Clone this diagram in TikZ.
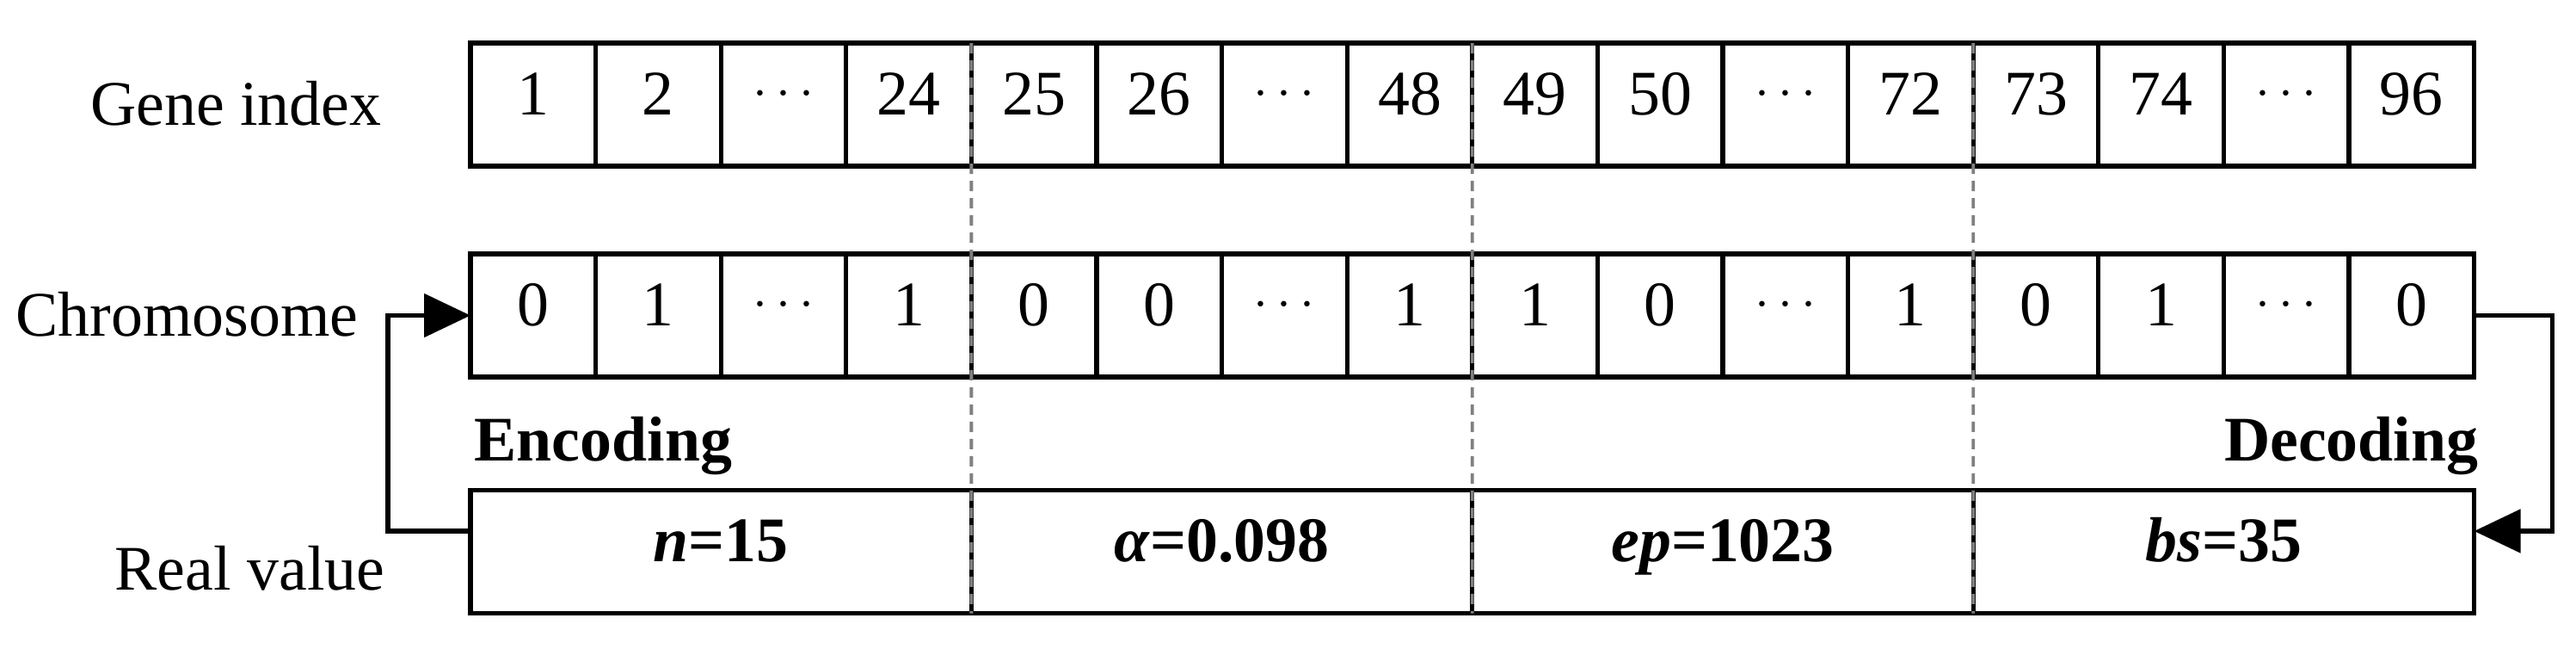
\documentclass[tikz,border=0pt]{standalone}
\usepackage{fontspec}
\setmainfont{Liberation Serif}
\usetikzlibrary{arrows.meta}

\newcommand{\gap}{\raisebox{1mm}{\fontsize{17}{17}\selectfont$\cdots$}}

\begin{document}
\begin{tikzpicture}[
    font=\fontsize{21}{25}\selectfont,
    cell/.style={draw, line width=1.5pt, inner sep=0pt, outer sep=0pt, minimum width=1.456cm, minimum height=1.43cm, text height=1.45ex, text depth=0pt},
    valbox/.style={cell, minimum width=5.824cm},
    lbl/.style={inner sep=0pt},
    sep/.style={draw=gray, line width=1.1pt, dash pattern=on 0.12cm off 0.08cm},
    conn/.style={line width=1.5pt, -{Triangle[length=0.54cm, width=0.5cm]}}
  ]
  \useasboundingbox (0,0) rectangle (29.95,-7.53);

  % gene index
  \node[cell] (g1) at (6.198,-1.215) {1};
  \node[cell] (g2) at (7.654,-1.215) {2};
  \node[cell] (g3) at (9.110,-1.215) {\gap};
  \node[cell] (g4) at (10.566,-1.215) {24};
  \node[cell] (g5) at (12.022,-1.215) {25};
  \node[cell] (g6) at (13.478,-1.215) {26};
  \node[cell] (g7) at (14.934,-1.215) {\gap};
  \node[cell] (g8) at (16.390,-1.215) {48};
  \node[cell] (g9) at (17.846,-1.215) {49};
  \node[cell] (g10) at (19.302,-1.215) {50};
  \node[cell] (g11) at (20.758,-1.215) {\gap};
  \node[cell] (g12) at (22.214,-1.215) {72};
  \node[cell] (g13) at (23.670,-1.215) {73};
  \node[cell] (g14) at (25.126,-1.215) {74};
  \node[cell] (g15) at (26.582,-1.215) {\gap};
  \node[cell] (g16) at (28.038,-1.215) {96};

  % chromosome
  \node[cell] (c1) at (6.198,-3.665) {0};
  \node[cell] (c2) at (7.654,-3.665) {1};
  \node[cell] (c3) at (9.110,-3.665) {\gap};
  \node[cell] (c4) at (10.566,-3.665) {1};
  \node[cell] (c5) at (12.022,-3.665) {0};
  \node[cell] (c6) at (13.478,-3.665) {0};
  \node[cell] (c7) at (14.934,-3.665) {\gap};
  \node[cell] (c8) at (16.390,-3.665) {1};
  \node[cell] (c9) at (17.846,-3.665) {1};
  \node[cell] (c10) at (19.302,-3.665) {0};
  \node[cell] (c11) at (20.758,-3.665) {\gap};
  \node[cell] (c12) at (22.214,-3.665) {1};
  \node[cell] (c13) at (23.670,-3.665) {0};
  \node[cell] (c14) at (25.126,-3.665) {1};
  \node[cell] (c15) at (26.582,-3.665) {\gap};
  \node[cell] (c16) at (28.038,-3.665) {0};

  % real values
  \node[valbox] (v1) at (8.382,-6.41) {\textbf{\textit{n}=15}};
  \node[valbox] (v2) at (14.206,-6.41) {\textbf{\textit{α}=0.098}};
  \node[valbox] (v3) at (20.030,-6.41) {\textbf{\textit{ep}=1023}};
  \node[valbox] (v4) at (25.854,-6.41) {\textbf{\textit{bs}=35}};

  \node[lbl, anchor=base east] (gi) at (4.44,-1.45) {Gene index};
  \node[lbl, anchor=base east] (ch) at (4.17,-3.90) {Chromosome};
  \node[lbl, anchor=base east] (rv) at (4.48,-6.85) {Real value};
  \node[lbl, anchor=base west] (enc) at (5.51,-5.35) {\textbf{Encoding}};
  \node[lbl, anchor=base east] (dec) at (28.82,-5.35) {\textbf{Decoding}};

  \draw[sep] (g4.north east) -- (v1.south east);
  \draw[sep] (g8.north east) -- (v2.south east);
  \draw[sep] (g12.north east) -- (v3.south east);

  \draw[conn] ([yshift=2.4mm]v1.west) -- ++(-0.96,0) |- (c1.west);
  \draw[conn] (c16.east) -- ++(0.91,0) |- ([yshift=2.4mm]v4.east);
\end{tikzpicture}
\end{document}
